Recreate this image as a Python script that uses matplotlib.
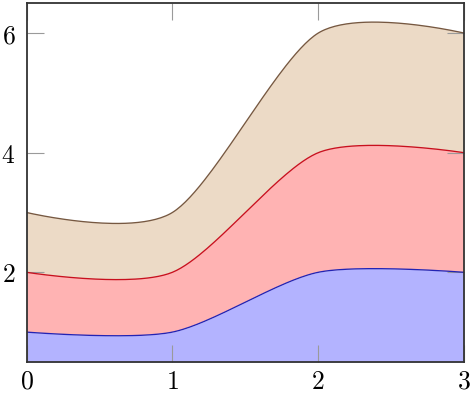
import numpy as np
import matplotlib
matplotlib.use("Agg")
import matplotlib.pyplot as plt

# stacked series (each layer adds on top of the previous)
x = [0, 1, 2, 3]
layer_a = [1, 1, 2, 2]
layer_b = [1, 1, 2, 2]
layer_c = [1, 1, 2, 2]

fills = ["#b3b3ff", "#ffb3b3", "#ecdac6"]
lines = ["#2323b4", "#c8101e", "#765841"]

plt.rcParams["mathtext.fontset"] = "cm"
plt.rcParams["font.family"] = "serif"
plt.rcParams["font.serif"] = ["DejaVu Serif"]


def smooth(px, py, tension=0.1375, n=60):
    # tikz-style "smooth" plot: cubic bezier segments
    px = np.asarray(px, float)
    py = np.asarray(py, float)
    pts = np.column_stack([px, py])
    m = len(pts)
    out = []
    for i in range(m - 1):
        p0, p1 = pts[i], pts[i + 1]
        if i == 0:
            c1 = p0
        else:
            c1 = p0 + tension * (pts[i + 1] - pts[i - 1])
        if i == m - 2:
            c2 = p1
        else:
            c2 = p1 - tension * (pts[i + 2] - pts[i])
        s = np.linspace(0, 1, n)[:, None]
        seg = ((1 - s) ** 3) * p0 + 3 * (1 - s) ** 2 * s * c1 + 3 * (1 - s) * s ** 2 * c2 + s ** 3 * p1
        if i > 0:
            seg = seg[1:]
        out.append(seg)
    out = np.vstack(out)
    return out[:, 0], out[:, 1]


fig = plt.figure(figsize=(4.74, 3.95), dpi=100)
ax = fig.add_axes([0.056, 0.0835, 0.923, 0.9085])

ymin = 0.5
totals = np.cumsum([layer_a, layer_b, layer_c], axis=0)
prev = None
for k in range(3):
    cx, cy = smooth(x, totals[k])
    if prev is None:
        ax.fill_between(cx, ymin, cy, color=fills[k], lw=0, zorder=1)
    else:
        px_, py_ = prev
        ax.fill(np.concatenate([cx, px_[::-1]]), np.concatenate([cy, py_[::-1]]),
                color=fills[k], lw=0, zorder=1)
    prev = (cx, cy)
for k in range(3):
    cx, cy = smooth(x, totals[k])
    ax.plot(cx, cy, color=lines[k], lw=0.95, zorder=2)

ax.set_xlim(0, 3)
ax.set_ylim(0.5, 6.5)
ax.set_xticks([0, 1, 2, 3])
ax.set_yticks([2, 4, 6])
ax.set_xticklabels(["$0$", "$1$", "$2$", "$3$"])
ax.set_yticklabels(["$2$", "$4$", "$6$"])
ax.tick_params(direction="in", length=12, width=0.8, color="#9a9a9a",
               labelsize=18.5, top=True, right=True)
ax.tick_params(axis="x", pad=5)
ax.tick_params(axis="y", pad=8)
for sp in ax.spines.values():
    sp.set_linewidth(1.3)
    sp.set_color("#333333")
    sp.set_zorder(3)

fig.savefig("out.png", dpi=100)
